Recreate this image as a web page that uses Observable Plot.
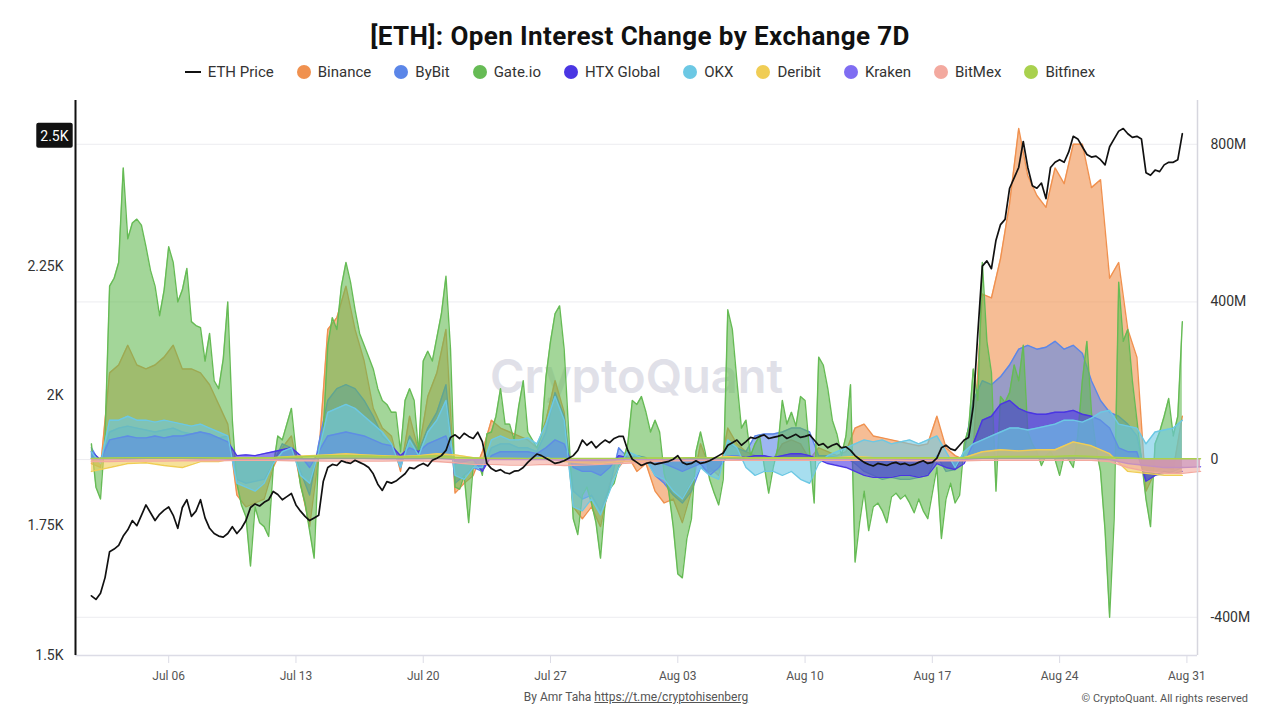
<!DOCTYPE html>
<html><head><meta charset="utf-8">
<script src="https://cdn.jsdelivr.net/npm/d3@7"></script>
<script src="https://cdn.jsdelivr.net/npm/@observablehq/plot@0.6"></script>
<style>
body{margin:0;background:#fff;font-family:Roboto,"Open Sans",sans-serif;width:1280px;height:720px;position:relative;overflow:hidden}
#title{position:absolute;top:21px;left:0;width:1280px;text-align:center;font-size:26px;font-weight:700;color:#111;letter-spacing:0.4px}
#legend{position:absolute;top:63px;left:0;width:1280px;display:flex;justify-content:center;align-items:center;gap:23px;font-size:15px;color:#333}
#legend .it{display:flex;align-items:center;gap:7px}
#legend .dot{width:14px;height:14px;border-radius:50%}
#legend .ln{width:16px;height:2px;background:#111}
#chart{position:absolute;top:90px;left:0}
#by{position:absolute;top:690px;left:0;width:1272px;text-align:center;font-size:12px;color:#555}
#by a{color:#555;text-decoration:underline}
#copy{position:absolute;top:692px;right:32px;font-size:11px;color:#555}
</style></head>
<body>
<div id="title">[ETH]: Open Interest Change by Exchange 7D</div>
<div id="legend"></div>
<div id="chart"></div>
<div id="by">By Amr Taha <a>https://t.me/cryptohisenberg</a></div>
<div id="copy">© CryptoQuant. All rights reserved</div>
<script>
// ---- time grids (start + step) ----
const start = Date.UTC(2025, 6, 1, 18);
const step6 = 6, step12 = 12, step24 = 24;

// ---- ETH price (USD), 6h steps ----
const ethPrice = [1615,1608,1620,1650,1700,1705,1712,1730,1742,1760,1750,1770,1790,1775,1760,1772,1780,1786,1770,1745,
1785,1800,1768,1778,1800,1765,1745,1735,1730,1728,1735,1748,1735,1745,1760,1785,1792,1788,1795,1800,
1816,1810,1800,1806,1812,1790,1778,1768,1760,1765,1770,1835,1862,1868,1866,1875,1872,1870,1876,1872,
1868,1862,1850,1830,1818,1835,1832,1836,1843,1850,1862,1860,1866,1870,1865,1876,1880,1885,1895,1920,
1925,1918,1928,1922,1918,1930,1912,1870,1860,1855,1858,1852,1850,1855,1856,1862,1872,1880,1888,1885,
1880,1875,1870,1872,1875,1880,1885,1895,1915,1905,1912,1900,1908,1915,1910,1918,1922,1922,1895,1878,
1872,1866,1870,1872,1868,1870,1872,1874,1878,1885,1872,1868,1870,1875,1870,1872,1875,1880,1885,1890,
1905,1910,1915,1905,1912,1920,1918,1922,1925,1918,1920,1922,1925,1918,1922,1926,1920,1922,1925,1915,
1905,1908,1900,1905,1908,1900,1902,1895,1885,1878,1872,1868,1865,1870,1868,1866,1870,1872,1868,1870,
1866,1868,1872,1875,1870,1872,1880,1900,1905,1898,1895,1905,1915,1920,1980,2120,2250,2260,2245,2300,
2330,2340,2400,2420,2440,2490,2440,2405,2400,2410,2380,2440,2450,2455,2450,2470,2500,2495,2480,2465,
2460,2462,2455,2445,2480,2495,2510,2515,2505,2498,2500,2495,2430,2425,2435,2432,2445,2450,2450,2455,2505];

// ---- Open interest change (M USD) ----
const gateio = [40,-70,-100,60,440,460,500,740,560,600,610,595,540,480,440,365,430,540,500,400,
430,485,350,340,335,250,320,200,180,255,400,100,-60,-115,-145,-270,-120,-160,-170,-195,
-20,60,50,90,130,20,-65,-110,-180,-250,20,70,290,360,330,440,500,450,380,320,
290,260,230,180,150,140,120,120,20,150,180,150,15,250,275,250,310,370,465,280,
-70,-75,-40,-160,-15,0,-40,65,70,110,180,90,90,50,135,200,70,50,30,60,
210,300,370,390,280,70,-150,-190,-90,-70,-110,-160,-250,-110,-75,-60,-15,0,40,150,
140,160,120,70,100,70,-35,-80,-170,-290,-300,-200,-150,20,70,20,-50,-85,-115,-50,
380,330,200,80,100,10,40,60,-15,-85,-20,30,150,90,120,85,160,150,20,-110,
260,240,180,100,65,10,60,190,-260,-160,-80,-180,-120,-110,-130,-160,-95,-85,-100,-90,
-110,-135,-100,-130,-150,-85,-20,-200,-100,-60,-110,-90,40,80,230,150,500,300,220,-80,
160,145,170,240,200,290,70,40,20,-15,10,20,0,-40,10,0,-20,60,200,300,
120,30,-30,-180,-400,-150,450,300,330,200,100,0,-100,-170,40,70,110,155,60,110,350];

const binance = [-10,-20,220,240,290,240,230,240,260,290,230,230,220,190,140,90,-90,-120,-110,-100,
-20,30,60,-60,-170,10,330,360,440,330,250,130,80,60,-30,110,20,160,220,330,
-85,-60,-40,20,100,80,70,60,50,30,100,200,120,-120,-150,-120,-170,-60,-20,10,
-30,-10,-80,-110,-100,-160,-80,40,-20,-40,80,40,20,10,10,0,40,50,40,0,
30,20,10,20,80,90,60,55,50,45,40,35,40,110,30,10,0,20,420,410,
510,650,840,720,670,640,740,700,800,800,690,710,460,500,330,260,-80,-30,-20,-25,110];

const bybit = [30,-10,70,80,85,80,75,70,75,80,70,65,70,60,55,60,-50,-60,-55,-50,
-10,40,30,-30,-90,40,150,180,190,180,150,110,60,40,-20,60,20,80,120,190,
-60,-40,-20,-30,30,40,40,30,30,20,70,170,110,-80,-100,-90,-130,-70,30,5,
10,5,-40,-60,-90,-110,-80,-20,-30,-25,40,30,20,60,65,65,70,80,80,70,
10,10,5,5,-10,-30,-40,-50,-45,-50,-50,-45,-40,10,-30,-25,20,150,200,190,
210,240,280,290,280,285,300,280,290,270,200,150,120,110,90,60,-50,-40,-35,-30,-20];

const htx = [20,0,50,55,60,55,55,60,55,60,60,65,70,65,55,45,10,12,10,15,
20,25,30,10,-20,20,60,65,70,65,60,50,40,35,10,30,20,40,50,60,
-10,-5,0,-30,10,20,20,20,20,15,30,50,40,-20,-30,-30,-40,-20,10,5,
5,0,-5,-10,-20,-30,-20,-10,-40,-20,10,10,5,10,10,5,10,15,15,10,
0,-10,-15,-20,-30,-40,-45,-45,-45,-40,-40,-45,-40,-10,-20,-25,-10,40,100,110,
140,150,130,120,115,115,120,120,125,115,110,100,80,30,20,20,-55,-40,-30,-35,-30];

const okx = [20,-10,100,100,110,100,100,95,100,95,90,85,90,80,70,60,-60,-70,-80,-60,
-10,20,30,-40,-60,20,120,130,140,130,110,90,70,40,-20,50,10,70,100,150,
-40,-50,-20,-20,50,60,50,50,55,40,90,160,100,-120,-130,-100,-140,-80,-20,20,
10,0,-40,-50,-80,-100,-60,-20,-40,-50,50,30,-20,-40,-30,-30,-40,-30,-50,-60,
-10,10,20,30,40,50,45,50,40,45,50,40,50,60,20,-20,20,40,50,60,
70,80,80,75,80,85,90,100,100,95,105,120,125,90,85,80,40,70,75,80,100];

const deribit = [-30,-20,-10,-8,-15,-20,-5,-5,5,5,5,8,10,12,15,12,10,8,10,15,12,
5,3,3,2,5,-5,-8,-10,-5,-5,-3,0,5,3,8,5,3,2,3,2,
5,8,5,5,4,5,5,5,20,25,22,25,25,45,35,15,-30,-35,-40,-40];

const kraken = [2,2,2,3,3,3,2,2,0,0,0,2,2,3,3,3,2,2,2,3,0,
0,0,0,0,0,-2,-2,-2,0,0,0,0,2,2,2,0,0,0,0,0,
0,0,-2,-2,-3,-2,-2,0,3,3,3,3,3,4,3,0,-10,-15,-20,-20,-18];

const bitmex = [-5,-5,-4,-4,-4,-3,-3,-3,-2,-2,-2,-3,-3,-4,-4,-4,-4,-3,-3,-5,-8,
-12,-12,-14,-14,-12,-15,-14,-12,-10,-8,-5,-3,-3,-2,-2,-2,-2,-2,-2,-2,
-2,-2,-2,-2,-3,-3,-3,-3,-2,-2,-2,-2,-2,-2,-2,-5,-20,-30,-35,-35,-30];

const bitfinex = [3,4,5,5,5,5,5,4,4,5,5,6,8,10,10,9,8,7,8,10,6,
4,3,3,3,3,3,3,3,3,4,4,4,5,5,5,5,5,5,5,5,
5,5,5,5,5,5,5,5,6,8,8,8,8,10,8,6,4,2,2,2,2];

// ---- legend / colours ----
const exchangeNames = ["Binance","ByBit","Gate.io","HTX Global","OKX","Deribit","Kraken","BitMex","Bitfinex"];
const exchangeColors = ["#f0914f","#5b86e8","#66bb55","#4a36e3","#6cc8e4","#f0cd55","#7f6df2","#f3a99f","#a9d14e"];
const exchangeValues = [binance, bybit, gateio, htx, okx, deribit, kraken, bitmex, bitfinex];
const exchangeSteps = [step12, step12, step6, step12, step12, step24, step24, step24, step24];

// ---- axes ----
const xTicks = ["2025-07-06","2025-07-13","2025-07-20","2025-07-27","2025-08-03","2025-08-10","2025-08-17","2025-08-24","2025-08-31"].map(s => new Date(s + "T00:00:00Z"));
const oiTicks = [-400, 0, 400, 800];
const priceTicks = [1500, 1750, 2000, 2250, 2500];
const yDomain = [-497, 911];
const priceDomain = [1500, 2569];
const xDomain = [new Date(Date.UTC(2025,5,30,21)), new Date(Date.UTC(2025,7,31,14))];

const toY = p => yDomain[0] + (p - priceDomain[0]) / (priceDomain[1] - priceDomain[0]) * (yDomain[1] - yDomain[0]);
const fromY = v => priceDomain[0] + (v - yDomain[0]) / (yDomain[1] - yDomain[0]) * (priceDomain[1] - priceDomain[0]);
const series = (stepH, vals) => vals.map((v, i) => ({date: new Date(start + i * stepH * 3600e3), value: v}));

// legend
const lg = document.getElementById("legend");
lg.innerHTML = `<div class="it"><div class="ln"></div><span>ETH Price</span></div>` +
  exchangeNames.map((n, i) => `<div class="it"><div class="dot" style="background:${exchangeColors[i]}"></div><span>${n}</span></div>`).join("");

const areaMarks = [];
exchangeNames.forEach((n, i) => {
  const data = series(exchangeSteps[i], exchangeValues[i]);
  areaMarks.push(Plot.areaY(data, {x: "date", y: "value", fill: exchangeColors[i], fillOpacity: 0.6}));
  areaMarks.push(Plot.lineY(data, {x: "date", y: "value", stroke: exchangeColors[i], strokeWidth: 1.4}));
});
const priceData = series(step6, ethPrice);

const plot = Plot.plot({
  width: 1280, height: 610,
  marginTop: 10, marginBottom: 45, marginLeft: 75, marginRight: 83,
  style: {fontFamily: "Roboto, sans-serif", fontSize: "14px", color: "#333", background: "transparent", overflow: "visible"},
  x: {type: "utc", domain: xDomain},
  y: {domain: yDomain},
  marks: [
    Plot.gridY(oiTicks, {stroke: "#ececf0", strokeOpacity: 1}),
    Plot.text(["CryptoQuant"], {frameAnchor: "middle", text: d => d, fontSize: 47, fontWeight: 600, fill: "#e0e0e8", fontFamily: "Inter, sans-serif"}),
    ...areaMarks,
    Plot.lineY(priceData, {x: "date", y: d => toY(d.value), stroke: "#111", strokeWidth: 1.7}),
    Plot.ruleY([yDomain[0]], {stroke: "#dcdce6", strokeWidth: 1.5}),
    Plot.ruleX([xDomain[0]], {stroke: "#111", strokeWidth: 2}),
    Plot.ruleX([xDomain[1]], {stroke: "#d6d6de", strokeWidth: 1.5}),
    Plot.axisX(xTicks, {tickFormat: d3.utcFormat("%b %d"), tickSize: 8, stroke: "#dcdce6", fill: "#555", fontSize: 12, tickPadding: 8, label: null}),
    Plot.axisY(oiTicks, {anchor: "right", tickSize: 0, tickPadding: 13, tickFormat: d => d === 0 ? "0" : d + "M", label: null, fill: "#333"}),
    Plot.axisY(priceTicks.map(toY), {anchor: "left", tickSize: 0, tickPadding: 12, tickFormat: v => (Math.round(fromY(v)) / 1000) + "K", label: null, fill: "#333"})
  ]
});
document.getElementById("chart").appendChild(plot);

// highlight box for the latest-price label
plot.querySelectorAll("text").forEach(t => {
  if (t.textContent === "2.5K") {
    const bb = t.getBBox();
    const r = document.createElementNS("http://www.w3.org/2000/svg", "rect");
    r.setAttribute("x", bb.x - 4); r.setAttribute("y", bb.y - 5);
    r.setAttribute("width", bb.width + 8); r.setAttribute("height", bb.height + 9);
    r.setAttribute("rx", 2); r.setAttribute("fill", "#111");
    const tr = (t.getAttribute("transform") || "") + " translate(5,0)";
    r.setAttribute("transform", tr);
    t.setAttribute("transform", tr);
    t.parentNode.insertBefore(r, t);
    t.setAttribute("fill", "#fff");
  }
});
</script>
</body></html>
